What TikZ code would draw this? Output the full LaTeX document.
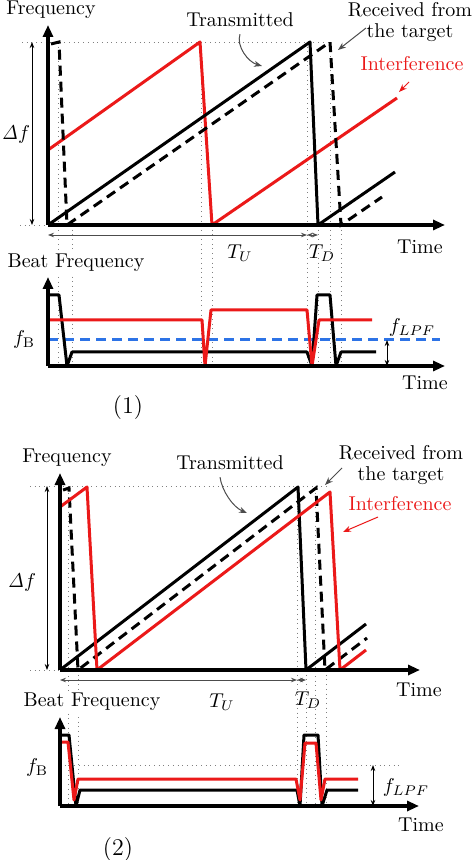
\documentclass[tikz,border=0pt]{standalone}
\usetikzlibrary{arrows.meta}
\definecolor{intred}{RGB}{235,25,25}
\definecolor{lpfblue}{RGB}{45,115,230}
\tikzset{
  axis/.style={line width=1.7pt,-{Triangle[width=5pt,length=6pt]}},
  tx/.style={line width=1.5pt,line join=round},
  rx/.style={line width=1.5pt,dash pattern=on 5pt off 3pt},
  intf/.style={line width=1.5pt,color=intred,line join=round},
  lpf/.style={line width=1.5pt,color=lpfblue,dash pattern=on 5pt off 3pt},
  guide/.style={gray,line width=0.35pt,dotted},
  dim/.style={gray!60!black,line width=0.4pt,{Stealth[length=3pt]}-{Stealth[length=3pt]}},
  pointer/.style={gray!60!black,line width=0.5pt,-{Stealth[length=4pt]}},
  beatlabel/.style={fill=white,inner sep=1pt}
}
\begin{document}
\begin{tikzpicture}[x=0.5pt,y=-0.5pt]
\useasboundingbox (0,0) rectangle (474,860);
% ---- (1)
\foreach \gx/\gy in {58/42,72/225,201/42,212/225,307/42,318/225,330/42,341/225}
  \draw[guide] (\gx,\gy) -- (\gx,366);
\draw[guide] (22,42) -- (330,42);
\draw[guide] (20,225) -- (48,225);
\draw[dim,black] (32,42) -- (32,225);
\draw[intf] (48,150) -- (200,42) -- (212,225) -- (397,98);
\draw[tx] (48,225) -- (310,42) -- (318,225) -- (395,172);
\draw[rx] (51,44) -- (59,42) -- (67,225) -- (330,42) -- (341,225) -- (382,197);
\draw[axis] (48,225) -- (48,25);
\draw[axis] (48,225) -- (445,225);
\draw[dim] (48,235) -- (307,235);
\draw[dim] (307,235) -- (318,235);
\node (freqA) at (51,10) {Frequency};
\node (dfA) at (16,135) {$\mathit{\Delta} f$};
\node (txA) at (240,20) {Transmitted};
\node[align=center] (rxA) at (410,22) {Received from\\[-1.5pt]the target};
\node[text=intred] (ifA) at (412,64) {Interference};
\node (timeA) at (420,247) {Time};
\node (tuA) at (240,253) {$T_U$};
\node (tdA) at (322,253) {$T_D$};
\coordinate (txAtip) at (262,66);
\coordinate (rxAtail) at (366,28);
\coordinate (rxAtip) at (338,50);
\coordinate (ifAtail) at (409,82);
\coordinate (ifAtip) at (399,92);
\draw[pointer] (txA.south) .. controls +(-4,12) and +(-14,-4) .. (txAtip);
\draw[pointer] (rxAtail) -- (rxAtip);
\draw[pointer,intred] (ifAtail) -- (ifAtip);
\node[beatlabel] (beatA) at (76,263) {Beat Frequency};
\draw[lpf] (48,340) -- (440,340);
\draw[tx] (48,295) -- (59,295) -- (67,366) -- (72,352) -- (307,352) -- (312,366) -- (317,295)
  -- (330,295) -- (336,366) -- (341,352) -- (376,352);
\draw[intf] (48,320) -- (202,320) -- (205,366) -- (211,310) -- (307,310) -- (312,366)
  -- (319,320) -- (372,320);
\draw[axis] (48,366) -- (48,277);
\draw[axis] (48,366) -- (445,366);
\draw[dim,black] (387,340) -- (387,366);
\node (fbA) at (24,340) {$f_{\mathrm{B}}$};
\node (lpfA) at (412,328) {$f_{LPF}$};
\node (timeA2) at (425,383) {Time};
\node (capA) at (128,408) {\large (1)};
% ---- (2)
\foreach \gx/\gy in {68/488,78/670,297/487,306/670,315/488,326/670}
  \draw[guide] (\gx,\gy) -- (\gx,806);
\draw[guide] (30,486) -- (327,486);
\draw[guide] (30,670) -- (60,670);
\draw[dim,black] (47,486) -- (47,670);
\draw[tx] (60,670) -- (298,487) -- (306,670) -- (366,624);
\draw[rx] (63,490) -- (69,488) -- (78,670) -- (316,488) -- (325,670) -- (367,638);
\draw[intf] (60,507) -- (87,487) -- (97,670) -- (330,492) -- (340,670) -- (366,650);
\draw[axis] (60,670) -- (60,473);
\draw[axis] (60,670) -- (420,670);
\draw[dim] (60,680) -- (297,680);
\draw[dim] (297,680) -- (306,680);
\node (freqB) at (67,458) {Frequency};
\node (dfB) at (22,582) {$\mathit{\Delta} f$};
\node (txB) at (230,463) {Transmitted};
\node[align=center] (rxB) at (401,465) {Received from\\[-1.5pt]the target};
\node[text=intred] (ifB) at (400,504) {Interference};
\node (timeB) at (419,690) {Time};
\node (tuB) at (222,702) {$T_U$};
\node (tdB) at (308,700) {$T_D$};
\coordinate (txBtip) at (247,513);
\coordinate (rxBtail) at (342,468);
\coordinate (rxBtip) at (325,485);
\coordinate (ifBtail) at (378,517);
\coordinate (ifBtip) at (343,532);
\draw[pointer] (txB.south -| 220,0) .. controls +(2,14) and +(-14,-6) .. (txBtip);
\draw[pointer] (rxBtail) -- (rxBtip);
\draw[pointer,intred] (ifBtail) -- (ifBtip);
\node[beatlabel] (beatB) at (92,702) {Beat Frequency};
\draw[guide] (60,765) -- (403,765);
\draw[tx] (60,735) -- (69,735) -- (76,806) -- (80,790) -- (297,790) -- (300,806) -- (304,735)
  -- (318,735) -- (322,806) -- (327,790) -- (358,790);
\draw[intf] (60,742) -- (68,742) -- (74,800) -- (78,779) -- (296,779) -- (300,800) -- (305,743)
  -- (316,743) -- (321,800) -- (325,779) -- (358,779);
\draw[axis] (60,806) -- (60,717);
\draw[axis] (60,806) -- (419,806);
\draw[dim,black] (373,765) -- (373,806);
\node (fbB) at (37,767) {$f_{\mathrm{B}}$};
\node (lpfB) at (406,787) {$f_{LPF}$};
\node (timeB2) at (421,825) {Time};
\node (capB) at (118,850) {\large (2)};
\end{tikzpicture}
\end{document}
